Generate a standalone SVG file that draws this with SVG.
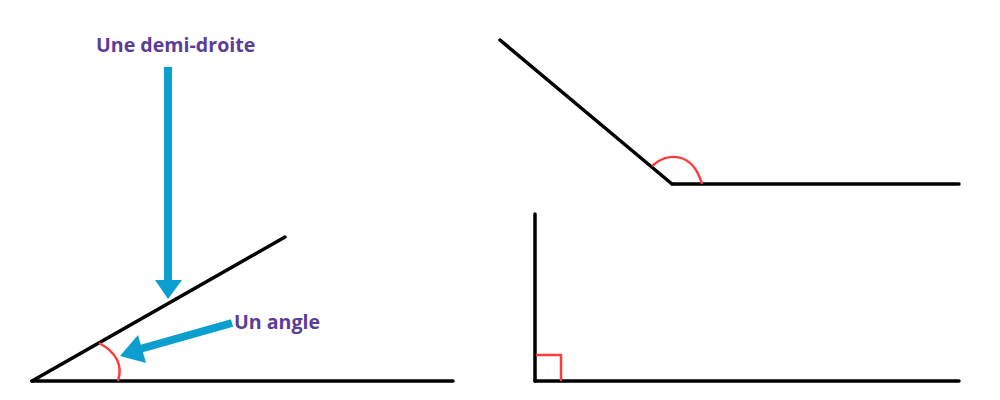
<svg xmlns="http://www.w3.org/2000/svg" width="1000" height="400" viewBox="0 0 1000 400">
<style>
.ray{stroke:#000;stroke-width:3.5;fill:none;stroke-linecap:round}
.mark{stroke:#ff3b3b;stroke-width:2.5;fill:none}
.lbl{font-family:"Open Sans",sans-serif;font-weight:700;font-size:19.6px;fill:#5b3d96}
.ptr{stroke:#0a9fcf;stroke-width:8;fill:none}
.head{fill:#0a9fcf}
</style>
<rect width="1000" height="400" fill="#fff"/>
<g id="angle-acute">
<line class="ray" x1="32" y1="381" x2="453" y2="381"/>
<line class="ray" x1="32" y1="381" x2="285" y2="237"/>
<path class="mark" d="M99,343 C112,350 124,362 118,381"/>
</g>
<g id="angle-obtuse">
<line class="ray" x1="500" y1="40" x2="672" y2="184"/>
<line class="ray" x1="672" y1="184" x2="959" y2="184"/>
<path class="mark" d="M652,166 C666,153 692,150 702,184"/>
</g>
<g id="angle-right">
<line class="ray" x1="535" y1="214" x2="535" y2="381"/>
<line class="ray" x1="535" y1="381" x2="959" y2="381"/>
<polyline class="mark" points="536,355 561,355 561,381"/>
</g>
<g id="label-demi-droite">
<text class="lbl" x="96" y="52">Une demi-droite</text>
</g>
<g id="label-angle">
<text class="lbl" x="234" y="329">Un angle</text>
</g>
<g id="connectors">
<line class="ptr" x1="168" y1="67" x2="168" y2="282"/>
<polygon class="head" points="155,280 182,280 168,299"/>
<line class="ptr" x1="232" y1="323" x2="140" y2="349"/>
<polygon class="head" points="138,335 146,363 120,356"/>
</g>
</svg>
